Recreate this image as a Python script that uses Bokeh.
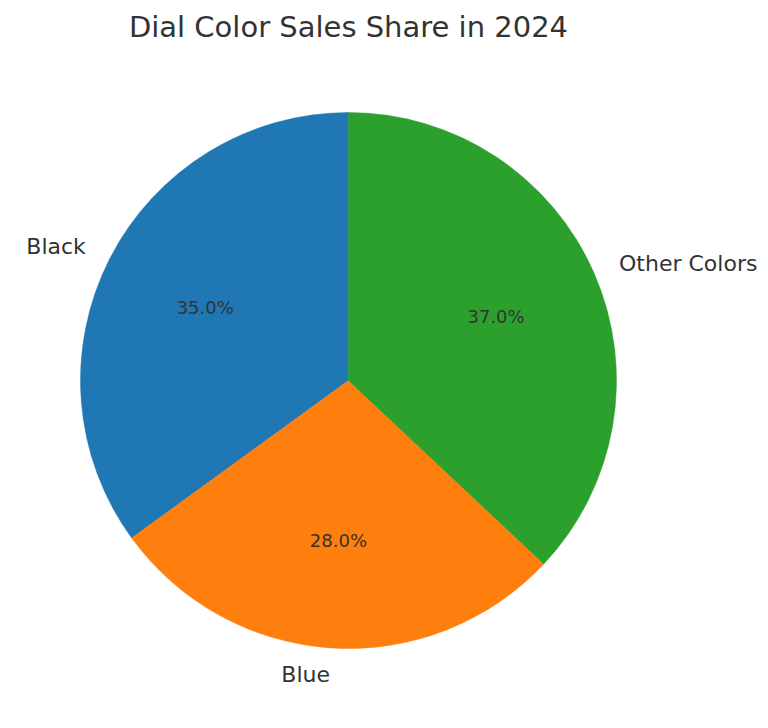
import numpy as np
from bokeh.plotting import figure
from bokeh.models import ColumnDataSource, Range1d
from bokeh.core.properties import value
from bokeh.embed import file_html
from bokeh.resources import INLINE

# data
categories = ["Black", "Blue", "Other Colors"]
shares = [35.0, 28.0, 37.0]
colors = ["#1f77b4", "#ff7f0e", "#2ca02c"]
title_text = "Dial Color Sales Share in 2024"

W, H = 760, 720
px = 268.0  # pixels per data unit (pie radius)
cx, cy = 348, 380  # pie center in figure pixels

p = figure(width=W, height=H, output_backend="svg", toolbar_location=None,
           min_border=0, outline_line_color=None,
           x_range=Range1d(-cx / px, (W - cx) / px),
           y_range=Range1d(-(H - cy) / px, cy / px))
p.axis.visible = False
p.grid.visible = False
p.background_fill_color = "white"
p.border_fill_color = "white"

vals = np.array(shares)
frac = vals / vals.sum()
start = np.pi / 2 + 2 * np.pi * np.concatenate([[0], np.cumsum(frac)[:-1]])
end = start + 2 * np.pi * frac
mid = (start + end) / 2

src = ColumnDataSource(dict(start=start, end=end, color=colors, cat=categories))
p.wedge(x=0, y=0, radius=1.0, start_angle="start", end_angle="end",
        fill_color="color", line_color="color", line_width=0.5, source=src)

# outer labels
lx = 1.1 * np.cos(mid)
ly = 1.1 * np.sin(mid)
align = ["left" if v > 0 else "right" for v in lx]
lsrc = ColumnDataSource(dict(x=lx, y=ly, t=categories, a=align))
p.text(x="x", y="y", text="t", text_align="a", text_baseline="middle",
       text_font=value("DejaVu Sans"), text_font_size="22px",
       text_color="#333333", source=lsrc)

# percentage labels
pctx = 0.6 * np.cos(mid)
pcty = 0.6 * np.sin(mid)
pct = ["%.1f%%" % v for v in frac * 100]
psrc = ColumnDataSource(dict(x=pctx, y=pcty, t=pct))
p.text(x="x", y="y", text="t", text_align="center", text_baseline="middle",
       text_font=value("DejaVu Sans"), text_font_size="18px",
       text_color="#333333", source=psrc)

# title
p.text(x=[0], y=[(cy - 26) / px], text=[title_text], text_align="center",
       text_baseline="alphabetic", text_font=value("DejaVu Sans"),
       text_font_size="29px", text_color="#333333")

open("out.html", "w").write(file_html(p, INLINE))
